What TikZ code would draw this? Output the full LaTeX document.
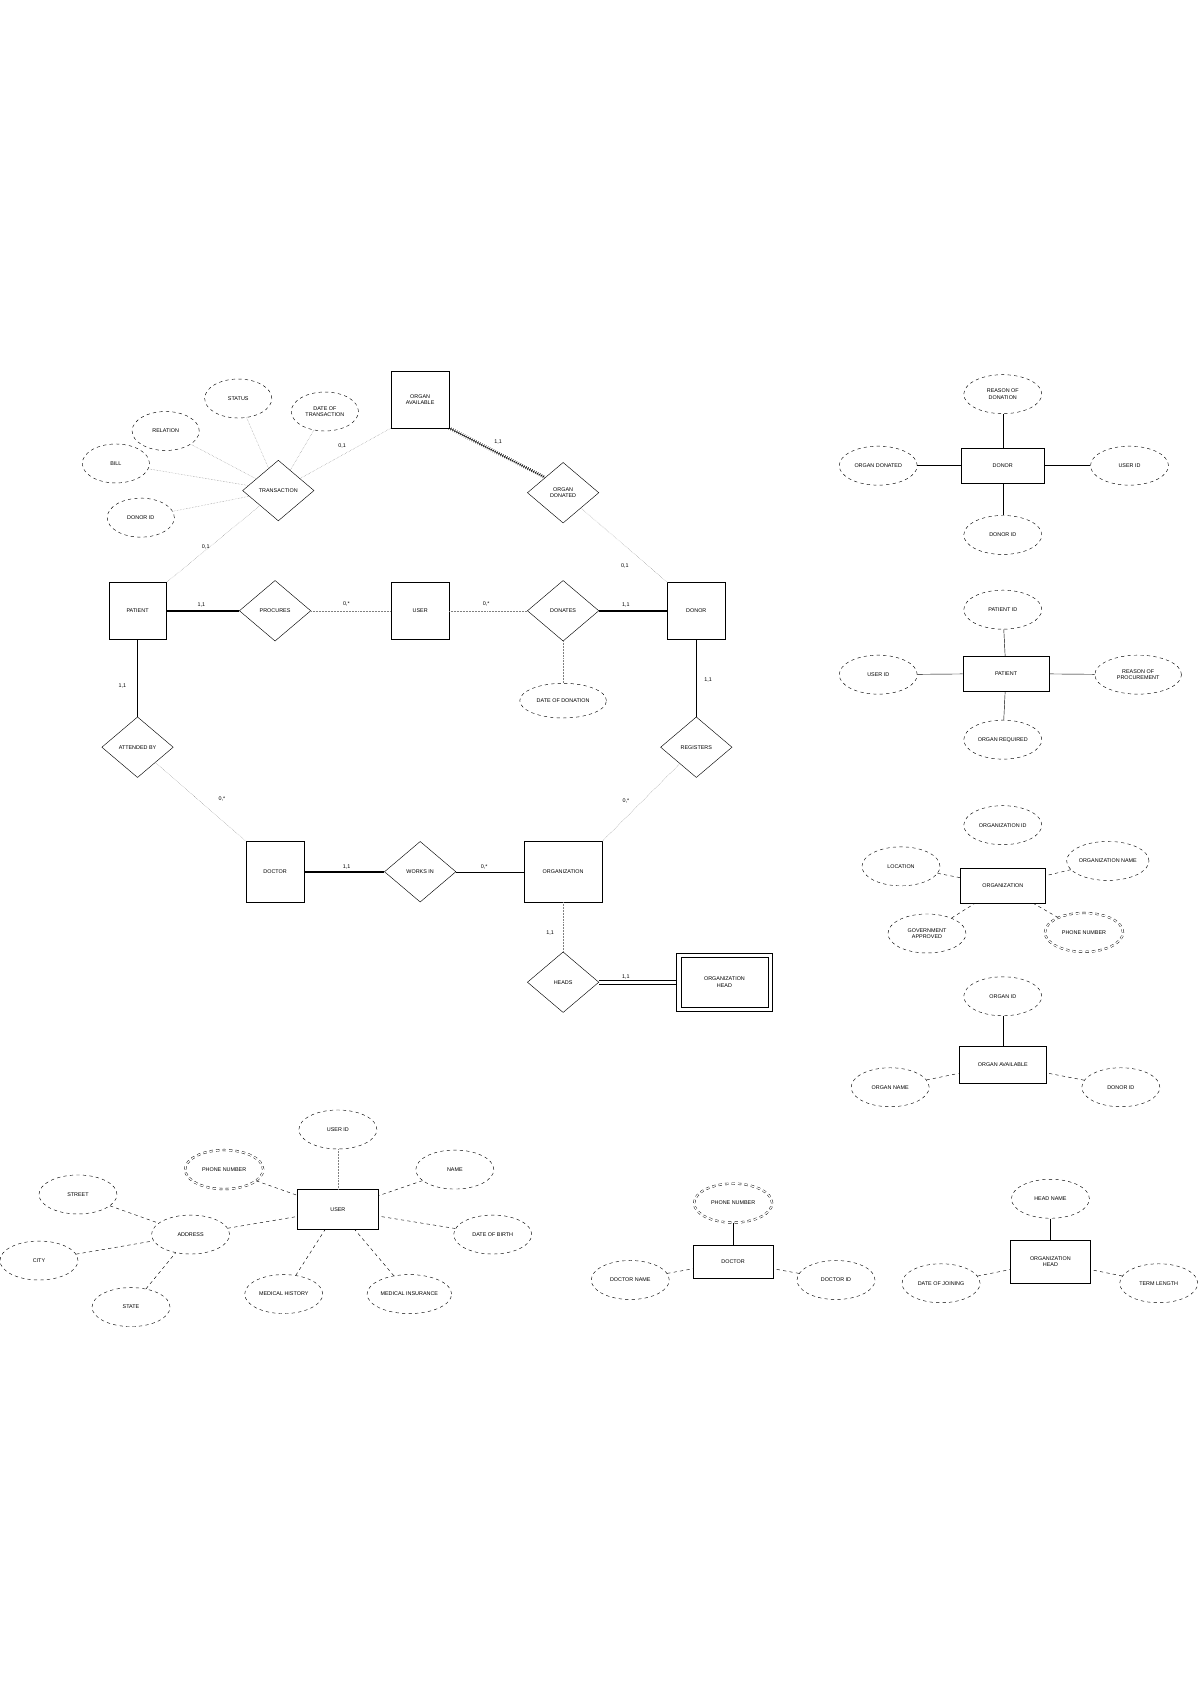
\documentclass[tikz,border=0pt]{standalone}
\usepackage{fontspec}
\setmainfont{Liberation Sans}
\usetikzlibrary{shapes.geometric,decorations.pathreplacing}
\begin{document}
\begin{tikzpicture}[x=1pt,y=-1pt,
  every node/.style={font=\fontsize{5}{6}\selectfont,align=center},
  ent/.style={draw,minimum width=53pt,minimum height=52pt,inner sep=1pt},
  ent2/.style={draw,minimum width=76pt,minimum height=32pt,inner sep=1pt},
  rel/.style={draw,diamond,aspect=1.25,minimum width=66pt,minimum height=56pt,inner sep=0pt},
  attr/.style={draw,dashed,ellipse,minimum width=72pt,minimum height=36pt,inner sep=0pt},
  mattr/.style={attr,double,double distance=1.2pt},
  dl/.style={densely dotted,gray},
  al/.style={dashed},
  thk/.style={line width=1.6pt},
  card/.style={font=\fontsize{5}{6}\selectfont}]
\useasboundingbox (0,0) rectangle (1108,1568);
% main diagram
\node[ent] (oa) at (388,369) {ORGAN\\AVAILABLE};
\node[rel] (tr) at (257,453) {TRANSACTION};
\node[rel] (od) at (520,455) {ORGAN\\DONATED};
\node[ent] (pa) at (127,564) {PATIENT};
\node[rel] (pr) at (254,564) {PROCURES};
\node[ent] (us) at (388,564) {USER};
\node[rel] (dn) at (520,564) {DONATES};
\node[ent] (do) at (643,564) {DONOR};
\node[attr,minimum width=80pt,minimum height=32pt] (dod) at (520,647) {DATE OF DONATION};
\node[rel] (ab) at (127,690) {ATTENDED BY};
\node[rel] (rg) at (643,690) {REGISTERS};
\node[ent,minimum height=56pt] (dc) at (254,805) {DOCTOR};
\node[rel] (wi) at (388,805) {WORKS IN};
\node[ent,minimum width=72pt,minimum height=56pt] (og) at (520,805) {ORGANIZATION};
\node[rel] (hd) at (520,907) {HEADS};
\node[draw,minimum width=80pt,minimum height=46pt] (oh) at (669,907) {ORGANIZATION\\HEAD};
\draw ([shift={(-4pt,4pt)}]oh.north west) rectangle ([shift={(4pt,-4pt)}]oh.south east);
\node[attr,minimum width=62pt] (st) at (220,368) {STATUS};
\node[attr,minimum width=62pt] (dt) at (300,380) {DATE OF\\TRANSACTION};
\node[attr,minimum width=62pt] (rl) at (153,398) {RELATION};
\node[attr,minimum width=62pt] (bl) at (107,428) {BILL};
\node[attr,minimum width=62pt] (di) at (130,478) {DONOR ID};
\foreach \a in {st,dt,rl,bl,di} \draw[dl] (\a) -- (tr);
\draw[dl] (tr) -- (oa.south west);
\draw[dl] (tr) -- (pa.north east);
\draw[decorate,decoration={ticks,segment length=2pt,amplitude=1.5pt}] (oa.south east) -- (od.north west);
\draw (oa.south east) -- (od.north west);
\draw[dl] (od) -- (do.north west);
\draw[thk] (pa) -- (pr);
\draw[dl] (pr) -- (us);
\draw[dl] (us) -- (dn);
\draw[thk] (dn) -- (do);
\draw[dl] (dn) -- (dod);
\draw[thk] (pa) -- (ab);
\draw (do) -- (rg);
\draw[dl] (ab) -- (dc.north west);
\draw[dl] (rg) -- (og.north east);
\draw[thk] (dc) -- (wi);
\draw (wi) -- (og);
\draw[dl] (og) -- (hd);
\draw ([yshift=-1.5pt]hd.east) -- ([yshift=-1.5pt,xshift=-4pt]oh.west);
\draw ([yshift=1.5pt]hd.east) -- ([yshift=1.5pt,xshift=-4pt]oh.west);
\node[card] at (316,412) {0,1};
\node[card] at (460,408) {1,1};
\node[card] at (577,523) {0,1};
\node[card] at (190,505) {0,1};
\node[card] at (186,559) {1,1};
\node[card] at (320,558) {0,*};
\node[card] at (449,558) {0,*};
\node[card] at (578,559) {1,1};
\node[card] at (113,633) {1,1};
\node[card] at (654,628) {1,1};
\node[card] at (205,738) {0,*};
\node[card] at (578,740) {0,*};
\node[card] at (320,801) {1,1};
\node[card] at (447,801) {0,*};
\node[card] at (508,862) {1,1};
\node[card] at (578,902) {1,1};
% right: DONOR
\node[ent2] (rd) at (926,430) {DONOR};
\node[attr] (rd1) at (926,364) {REASON OF\\DONATION};
\node[attr] (rd2) at (811,430) {ORGAN DONATED};
\node[attr] (rd3) at (1043,430) {USER ID};
\node[attr] (rd4) at (926,494) {DONOR ID};
\foreach \a in {rd1,rd2,rd3,rd4} \draw (\a) -- (rd);
% right: PATIENT
\node[ent2,minimum width=80pt] (rp) at (929,622) {PATIENT};
\node[attr] (rp1) at (926,563) {PATIENT ID};
\node[attr] (rp2) at (811,623) {USER ID};
\node[attr,minimum width=80pt] (rp3) at (1051,623) {REASON OF\\PROCUREMENT};
\node[attr] (rp4) at (926,683) {ORGAN REQUIRED};
\foreach \a in {rp1,rp2,rp3,rp4} \draw (\a) -- (rp);
% right: ORGANIZATION
\node[ent2,minimum width=79pt] (ro) at (926,818) {ORGANIZATION};
\node[attr] (ro1) at (926,762) {ORGANIZATION ID};
\node[attr] (ro2) at (832,800) {LOCATION};
\node[attr,minimum width=76pt] (ro3) at (1023,795) {ORGANIZATION NAME};
\node[attr] (ro4) at (856,862) {GOVERNMENT\\APPROVED};
\node[mattr] (ro5) at (1001,861) {PHONE NUMBER};
\foreach \a in {ro2,ro3,ro4,ro5} \draw[al] (\a) -- (ro);
% right: ORGAN AVAILABLE
\node[ent2,minimum width=81pt,minimum height=34pt] (ra) at (926,983) {ORGAN AVAILABLE};
\node[attr] (ra1) at (926,920) {ORGAN ID};
\node[attr] (ra2) at (822,1004) {ORGAN NAME};
\node[attr] (ra3) at (1035,1004) {DONOR ID};
\draw (ra1) -- (ra);
\foreach \a in {ra2,ra3} \draw[al] (\a) -- (ra);
% bottom: USER
\node[ent2,minimum width=75pt,minimum height=37pt] (bu) at (312,1117) {USER};
\node[attr] (bu1) at (312,1043) {USER ID};
\node[mattr] (bu2) at (207,1080) {PHONE NUMBER};
\node[attr] (bu3) at (420,1080) {NAME};
\node[attr] (bu4) at (176,1140) {ADDRESS};
\node[attr] (bu5) at (72,1103) {STREET};
\node[attr] (bu6) at (36,1164) {CITY};
\node[attr] (bu7) at (121,1207) {STATE};
\node[attr] (bu8) at (455,1140) {DATE OF BIRTH};
\node[attr] (bu9) at (262,1195) {MEDICAL HISTORY};
\node[attr,minimum width=78pt] (bu10) at (378,1195) {MEDICAL INSURANCE};
\draw[dl] (bu1) -- (bu);
\foreach \a in {bu2,bu3,bu4,bu8,bu9,bu10} \draw[al] (\a) -- (bu);
\foreach \a in {bu5,bu6,bu7} \draw[al] (\a) -- (bu4);
% bottom: DOCTOR
\node[ent2,minimum width=74pt,minimum height=30pt] (bd) at (677,1165) {DOCTOR};
\node[mattr] (bd1) at (677,1111) {PHONE NUMBER};
\node[attr] (bd2) at (582,1182) {DOCTOR NAME};
\node[attr] (bd3) at (772,1182) {DOCTOR ID};
\draw (bd1) -- (bd);
\foreach \a in {bd2,bd3} \draw[al] (\a) -- (bd);
% bottom: ORGANIZATION HEAD
\node[ent2,minimum width=74pt,minimum height=40pt] (bh) at (970,1165) {ORGANIZATION\\HEAD};
\node[attr] (bh1) at (970,1107) {HEAD NAME};
\node[attr] (bh2) at (869,1185) {DATE OF JOINING};
\node[attr] (bh3) at (1070,1185) {TERM LENGTH};
\draw[line width=1pt] (bh1) -- (bh);
\foreach \a in {bh2,bh3} \draw[al] (\a) -- (bh);
\end{tikzpicture}
\end{document}
